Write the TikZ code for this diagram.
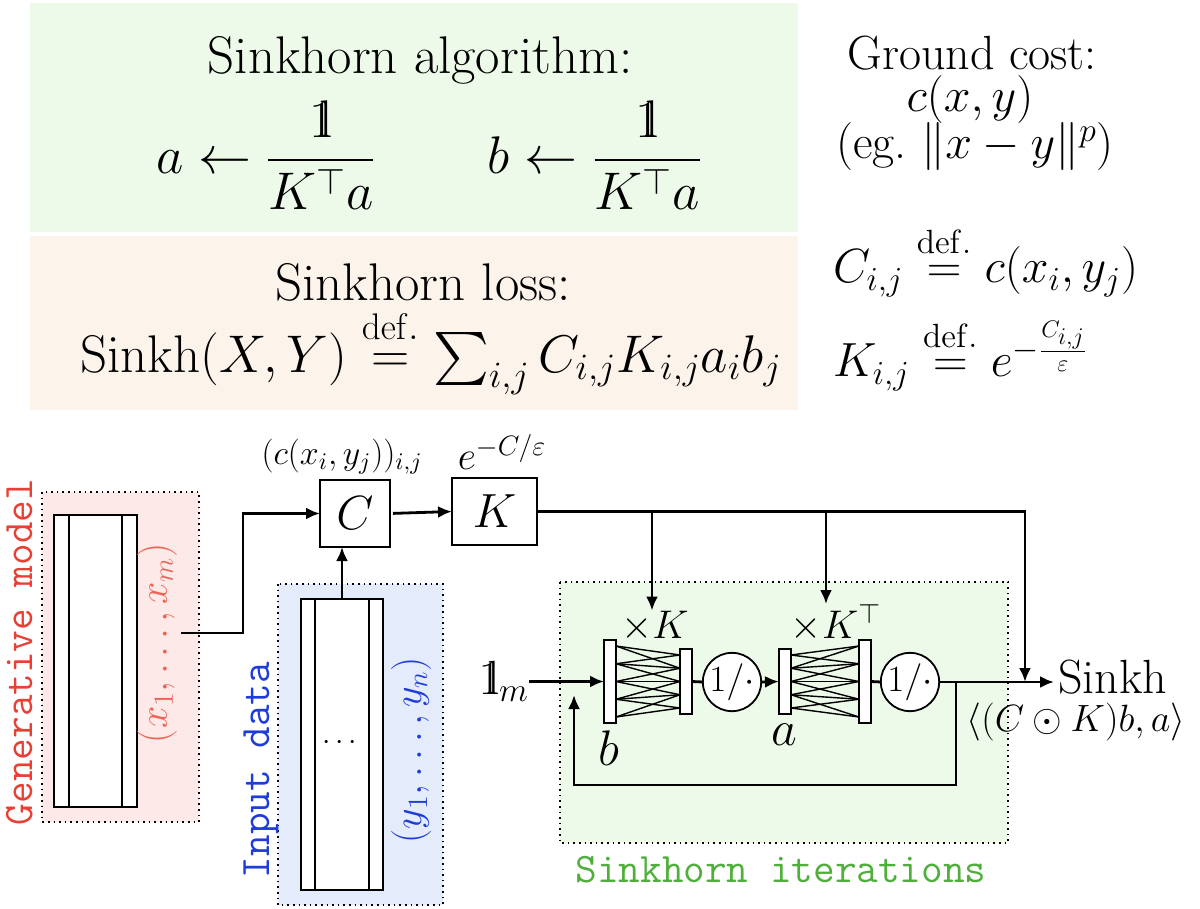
\RequirePackage{fix-cm}
\documentclass[tikz,border=0pt]{standalone}
\usepackage{amsmath,amssymb}
\usetikzlibrary{arrows.meta,calc}
\newcommand{\dsone}{\mathord{\mathrm{1}\mkern-5mu\mathrm{l}}}
\newcommand{\defeq}{\overset{\raisebox{1.5pt}{$\scriptstyle\mathrm{def.}$}}{=}}
\definecolor{boxgreen}{RGB}{238,250,233}
\definecolor{boxorange}{RGB}{252,243,235}
\definecolor{boxpink}{RGB}{253,233,231}
\definecolor{boxblue}{RGB}{228,235,251}
\definecolor{tred}{RGB}{232,64,52}
\definecolor{tred2}{RGB}{236,100,85}
\definecolor{tblue}{RGB}{30,60,220}
\definecolor{tgreen}{RGB}{80,175,60}
\begin{document}
\begin{tikzpicture}[x=0.5pt,y=-0.5pt,
 every node/.style={inner sep=0pt,outer sep=0pt},
 huge/.style={font=\fontsize{26.5}{31}\selectfont},
 big/.style={font=\fontsize{24}{29}\selectfont},
 mid/.style={font=\fontsize{20}{24}\selectfont},
 lbl/.style={font=\fontsize{25}{29}\selectfont},
 small/.style={font=\fontsize{17}{20}\selectfont},
 vlab/.style={font=\fontsize{20}{24}\selectfont},
 ttlab/.style={font=\fontsize{21}{25}\selectfont\ttfamily},
 arr/.style={-{Latex[length=7pt,width=6pt]},line width=1.4pt},
 conn/.style={line width=1.4pt},
 opbox/.style={draw,line width=0.8pt,fill=white},
 dotbox/.style={draw,dotted,line width=0.8pt},
 invc/.style={draw,circle,line width=0.9pt,minimum size=23pt,fill=white,font=\fontsize{18.5}{22}\selectfont},
 vecbar/.style={draw,line width=1pt,fill=white,minimum width=6pt},
 bip/.style={line width=0.7pt}]
\useasboundingbox (0,0) rectangle (1200,909);

% ---------- top panels ----------
\fill[boxgreen] (30,3) rectangle (798,232);
\fill[boxorange] (30,236) rectangle (798,410);

\node[huge] (alg) at (420,60) {Sinkhorn algorithm:};
\node[huge] (upa) at (266,155) {$a \leftarrow \dfrac{\dsone}{K^\top a}$};
\node[huge] (upb) at (595,155) {$b \leftarrow \dfrac{\dsone}{K^\top a}$};

\node[big] (gc) at (972,53) {Ground cost:};
\node[big] (cxy) at (970,100) {$c(x,y)$};
\node[big] (eg) at (975,147) {(eg.\ $\|x-y\|^p$)};

\node[huge,anchor=base] (loss) at (423,300) {Sinkhorn loss:};
\node[huge,anchor=base] (lossf) at (431,372) {$\mathrm{Sinkh}(X,Y) \defeq \sum_{i,j} C_{i,j}K_{i,j}a_ib_j$};

\node[big,anchor=base west] (cdef) at (833,283) {$C_{i,j} \defeq c(x_i,y_j)$};
\node[big,anchor=base west] (kdef) at (833,377) {$K_{i,j} \defeq e^{-\frac{C_{i,j}}{\varepsilon}}$};

% ---------- lower panels ----------
\draw[dotbox,fill=boxpink] (42,492) rectangle (199,822);
\draw[dotbox,fill=boxblue] (278,584) rectangle (443,905);
\draw[dotbox,fill=boxgreen] (560,582) rectangle (1008,843);

% generative model
\node[draw,line width=1pt,fill=white,minimum width=41.5pt,minimum height=146pt] (grect) at (95.5,661) {};
\draw[line width=1pt] (69,515) -- (69,807) (122,515) -- (122,807);
\node[ttlab,text=tred,rotate=90] (genlab) at (20,652) {Generative model};
\node[vlab,text=tred2,rotate=90] (xlab) at (157,643) {$(x_1,\dots,x_m)$};

% input data
\node[draw,line width=1pt,fill=white,minimum width=41pt,minimum height=145.5pt] (yrect) at (342,744.5) {};
\draw[line width=1pt] (315,599) -- (315,890) (369,599) -- (369,890);
\node[font=\fontsize{15}{18}\selectfont] (ydots) at (342,743) {$\cdots$};
\node[ttlab,text=tblue,rotate=90] (inlab) at (261,770) {Input data};
\node[vlab,text=tblue,rotate=90] (ylab) at (411,750) {$(y_1,\dots,y_n)$};

% C and K
\node[opbox,big,minimum width=35pt,minimum height=33.5pt] (C) at (355,513.5) {$C$};
\node[opbox,big,minimum width=42.5pt,minimum height=33.5pt] (K) at (494.5,511.5) {$K$};
\node[small] (clab) at (342,457) {$(c(x_i,y_j))_{i,j}$};
\node[mid] (klab) at (502,452) {$e^{-C/\varepsilon}$};

\coordinate (gout) at (181,633);
\draw[arr] (gout) -- (243,633) |- (C.west);
\draw[arr] (yrect.north) -- (yrect.north |- C.south);
\draw[arr,shorten <=1.5pt] (C.east) -- (K.west);

% Sinkhorn iteration blocks
\foreach \i in {0,...,4} {
  \pgfmathsetmacro{\ly}{646+\i*17.75}
  \pgfmathsetmacro{\ry}{655+\i*13.25}
  \draw[bip] (616,\ly) -- (680,\ry);
  \draw[bip] (791,\ry) -- (859,\ly);
}
\foreach \i in {0,...,3} {
  \pgfmathsetmacro{\ly}{646+\i*17.75}
  \pgfmathsetmacro{\lyn}{646+(\i+1)*17.75}
  \pgfmathsetmacro{\ry}{655+\i*13.25}
  \pgfmathsetmacro{\ryn}{655+(\i+1)*13.25}
  \draw[bip] (616,\ly) -- (680,\ryn);
  \draw[bip] (616,\lyn) -- (680,\ry);
  \draw[bip] (791,\ry) -- (859,\lyn);
  \draw[bip] (791,\ryn) -- (859,\ly);
}
\node[vecbar,minimum height=41.5pt] (brect) at (610,681.5) {};
\node[vecbar,minimum height=32.5pt] (rK) at (686,681.5) {};
\node[vecbar,minimum height=32.5pt] (arect) at (785,681.5) {};
\node[vecbar,minimum height=41.5pt] (rKT) at (865,681.5) {};
\node[invc] (inv1) at (732,682) {$1/\cdot$};
\node[invc] (inv2) at (910,682) {$1/\cdot$};

\node[mid,anchor=base] (xK) at (655,638) {$\times K$};
\node[mid,anchor=base] (xKT) at (836,638) {$\times K^\top$};
\node[lbl] (blab) at (609,748) {$b$};
\node[lbl] (alab) at (784,735) {$a$};

\node[big,anchor=east] (one) at (529,681) {$\dsone_m$};
\node[font=\fontsize{24}{28}\selectfont,anchor=base west] (sinkh) at (1058,693) {Sinkh};
\node[font=\fontsize{19}{23}\selectfont] (sinkv) at (1076,722) {$\langle (C\odot K)b,a\rangle$};
\node[ttlab,text=tgreen] (itlab) at (781,870) {Sinkhorn iterations};

\draw[arr] (one.east |- brect.west) -- (brect.west);
\draw[conn] (rK.east) -- (inv1.west);
\draw[arr] (inv1.east) -- (arect.west);
\draw[conn] (rKT.east) -- (inv2.west);
\draw[arr] (inv2.east) -- ([xshift=-2pt]inv2.east -| sinkh.west);

\coordinate (sj) at (1025,682);
\coordinate (k1) at (652,511.5);
\coordinate (k2) at (826,511.5);
\draw[arr] (K.east) -| (sj);
\draw[arr] (k1) -- (k1 |- xK.north);
\draw[arr] (k2) -- (k2 |- xKT.north);

\coordinate (fb) at (956,682);
\coordinate (fbe) at (574,695);
\draw[arr] (fb) -- ++(0,103) -| (fbe);
\end{tikzpicture}
\end{document}
